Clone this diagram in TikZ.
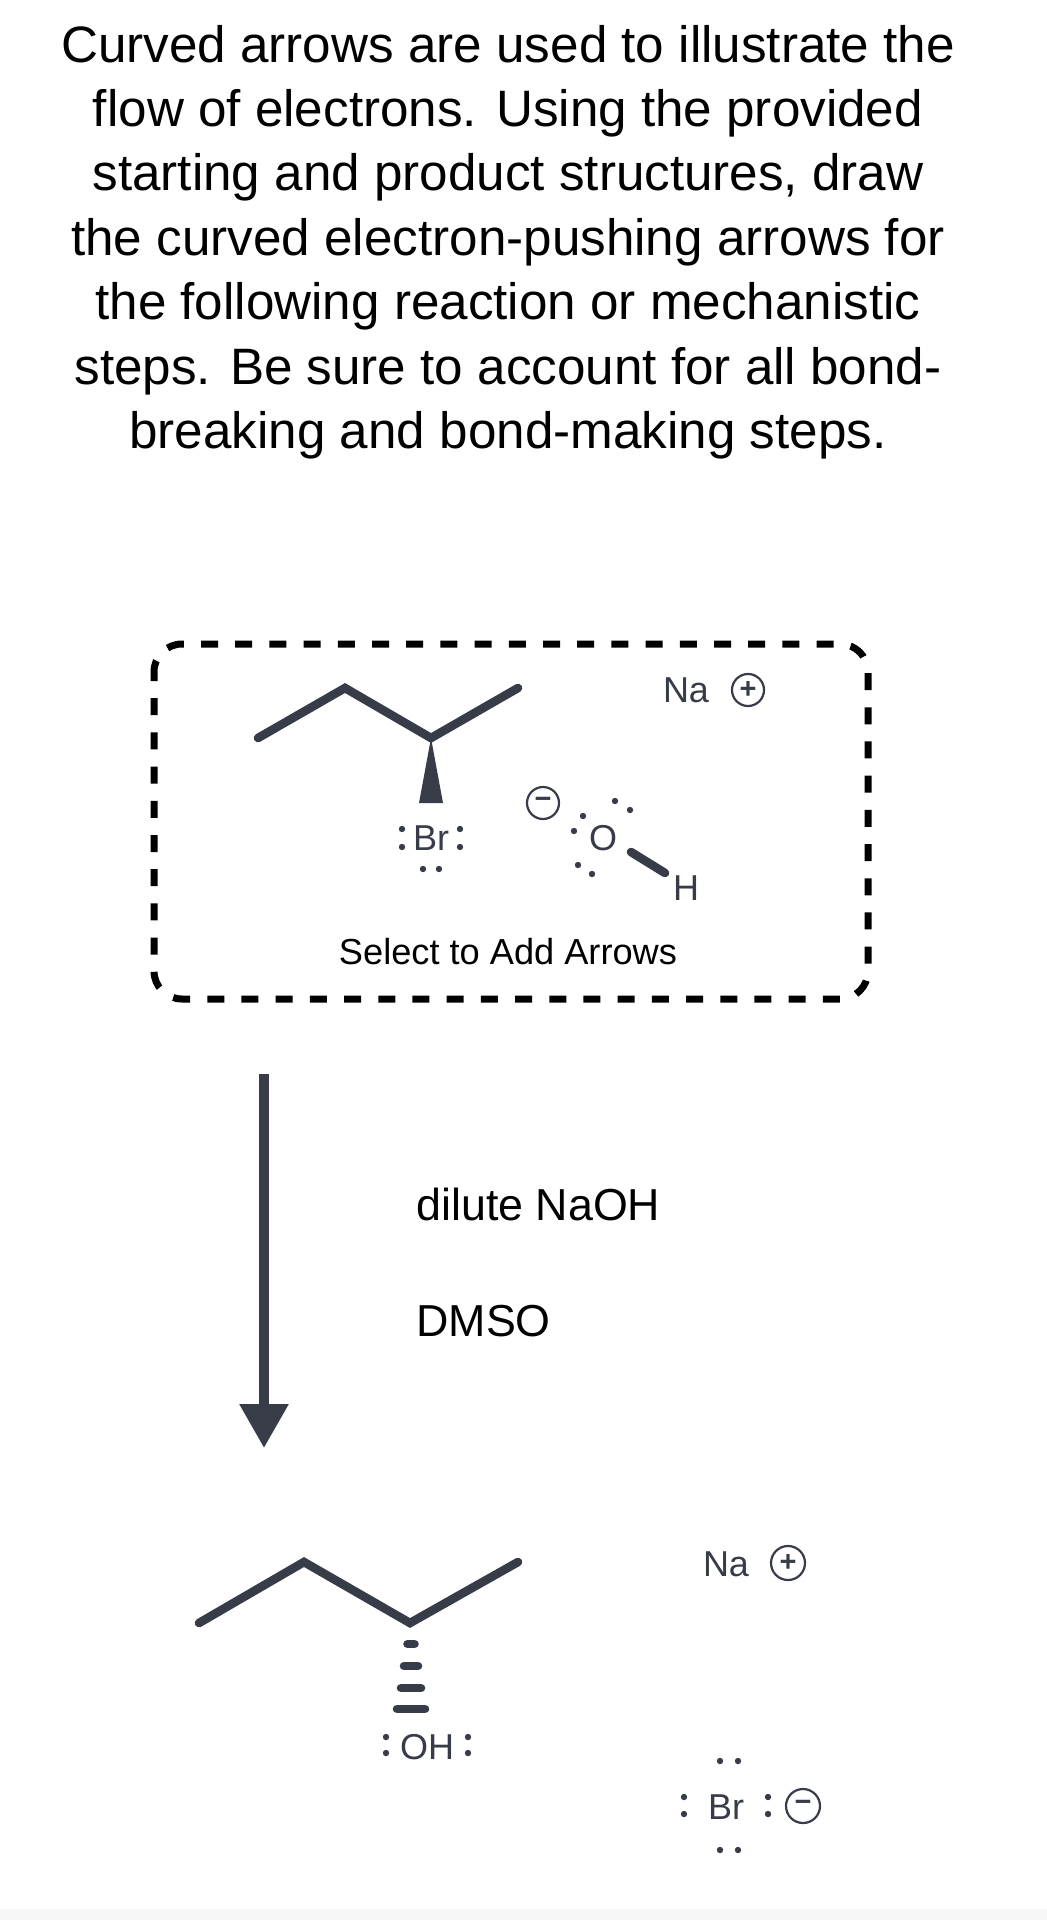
\documentclass[tikz,border=0pt]{standalone}
\usepackage{fontspec}
\setmainfont{Liberation Sans}
\usetikzlibrary{arrows.meta}
\definecolor{ink}{HTML}{373C48}
\tikzset{
  bond/.style={ink,line width=4.3pt,line cap=round,line join=miter},
  atom/.style={ink,inner sep=0pt,font=\fontsize{18}{20}\selectfont},
  charge/.style={ink,draw,circle,line width=1.1pt,inner sep=0pt,minimum size=16pt,font=\fontsize{14.5}{14}\bfseries\selectfont},
  label/.style={black,inner sep=0pt,font=\fontsize{22.4}{26}\selectfont},
}
\begin{document}
\begin{tikzpicture}[x=0.5pt,y=-0.5pt]
  \useasboundingbox (0,0) rectangle (1047,1920);
  \fill[black!3] (0,1909) rectangle (1047,1920);

  \node[black,inner sep=0pt,align=center,font=\fontsize{25.6}{32.2}\selectfont] (question) at (508,242)
    {Curved arrows are used to illustrate the\\
     flow of electrons. Using the provided\\
     starting and product structures, draw\\
     the curved electron-pushing arrows for\\
     the following reaction or mechanistic\\
     steps. Be sure to account for all bond-\\
     breaking and bond-making steps.};

  % starting material
  \draw[black,line width=3.5pt,dash pattern=on 8.5pt off 8.6pt,dash phase=4pt,rounded corners=14pt]
    (154,644) rectangle (868,999);
  \coordinate (a1) at (258,738);
  \coordinate (a2) at (345,688);
  \coordinate (a3) at (431,738);
  \coordinate (a4) at (518,688);
  \draw[bond] (a1) -- (a2) -- (a3) -- (a4);
  \node[atom] (br) at (431,838) {Br};
  \fill[ink] (a3) -- (443,803) -- (419,803) -- cycle;
  \fill[ink] (402,829) circle[radius=3.2] (402,847) circle[radius=3.2]
    (460,829) circle[radius=3.2] (460,847) circle[radius=3.2]
    (423,869) circle[radius=3.2] (439,869) circle[radius=3.2];
  \node[charge] (neg) at (543,803) {−};
  \node[atom] (o) at (603,838) {O};
  \node[atom] (h) at (686,888) {H};
  \coordinate (o1) at (631,852);
  \coordinate (h1) at (665,873);
  \draw[bond] (o1) -- (h1);
  \fill[ink] (583,816) circle[radius=3.2] (574,831) circle[radius=3.2]
    (615,801) circle[radius=3.2] (630,810) circle[radius=3.2]
    (578,865) circle[radius=3.2] (592,874) circle[radius=3.2];
  \node[atom] (na) at (686,690) {Na};
  \node[charge] (pos) at (748,690) {+};
  \node[black,inner sep=0pt,font=\fontsize{18.1}{20}\selectfont] (select) at (508,952) {Select to Add Arrows};

  % reaction arrow
  \coordinate (top) at (264,1074);
  \coordinate (tip) at (264,1448);
  \draw[ink,line width=4.6pt,-{Triangle[width=23.5pt,length=22pt]}] (top) -- (tip);
  \node[label,anchor=west] (naoh) at (416,1204) {dilute NaOH};
  \node[label,anchor=west] (dmso) at (416,1321) {DMSO};

  % product
  \coordinate (p1) at (199,1623);
  \coordinate (p2) at (304,1562);
  \coordinate (p3) at (410,1623);
  \coordinate (p4) at (518,1562);
  \draw[bond] (p1) -- (p2) -- (p3) -- (p4);
  \draw[bond] (407.5,1644) -- (414.5,1644);
  \draw[bond] (404,1666) -- (418,1666);
  \draw[bond] (401,1688) -- (421,1688);
  \draw[bond] (397,1709) -- (425,1709);
  \node[atom] (oh) at (427,1747) {OH};
  \fill[ink] (386,1737) circle[radius=3.2] (386,1753) circle[radius=3.2]
    (468,1737) circle[radius=3.2] (468,1753) circle[radius=3.2];
  \node[atom] (nap) at (726,1564) {Na};
  \node[charge,minimum size=17pt] (posp) at (788,1563) {+};
  \node[atom] (brp) at (726,1807) {Br};
  \fill[ink] (720,1761) circle[radius=3.2] (738,1761) circle[radius=3.2]
    (720,1850) circle[radius=3.2] (738,1850) circle[radius=3.2]
    (684,1797) circle[radius=3.2] (684,1814) circle[radius=3.2]
    (768,1797) circle[radius=3.2] (768,1814) circle[radius=3.2];
  \node[charge,minimum size=17pt] (negp) at (803,1806) {−};
\end{tikzpicture}
\end{document}
